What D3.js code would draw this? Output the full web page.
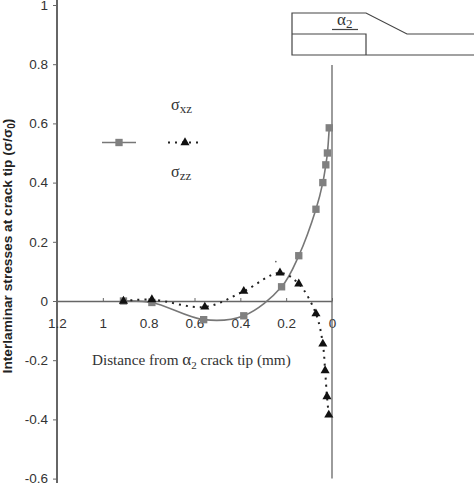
<!DOCTYPE html>
<html>
<head>
<meta charset="utf-8">
<script src="https://cdn.jsdelivr.net/npm/d3@7"></script>
<style>
  html, body { margin: 0; padding: 0; background: #fff; }
  svg { display: block; }
  .serif { font-family: "Liberation Serif", serif; fill: #333; }
  .axis text { font-family: "Liberation Sans", sans-serif; font-size: 13.5px; fill: #333; }
  .axis path, .axis line { stroke: #666; }
</style>
</head>
<body>
<svg id="chart" width="474" height="483"></svg>
<script>
// values
const xTickValues = [1.2, 1, 0.8, 0.6, 0.4, 0.2, 0];
const yTickValues = [1, 0.8, 0.6, 0.4, 0.2, 0, -0.2, -0.4, -0.6];

const xzDistance = [0.91, 0.786, 0.56, 0.385, 0.22, 0.145, 0.07, 0.04, 0.027, 0.02, 0.012];
const xzStress = [0, -0.005, -0.063, -0.05, 0.048, 0.153, 0.31, 0.40, 0.46, 0.50, 0.585];

const zzDistance = [0.91, 0.786, 0.555, 0.385, 0.227, 0.145, 0.07, 0.04, 0.03, 0.022, 0.014];
const zzStress = [0, 0.005, -0.02, 0.033, 0.095, 0.058, -0.043, -0.145, -0.235, -0.323, -0.385];

// small stray dot above the zz peak
const strayDistance = [0.245];
const strayStress = [0.133];

const svg = d3.select('#chart');

const xScale = d3.scaleLinear().domain([1.2, 0]).range([57, 332]);
const yScale = d3.scaleLinear().domain([1, -0.6]).range([5, 478.6]);

const zip = (xs, ys) => xs.map((x, i) => [x, ys[i]]);
const smooth = d3.line()
  .x(d => xScale(d[0]))
  .y(d => yScale(d[1]))
  .curve(d3.curveCatmullRom.alpha(0.5));

// y axis on the left edge
svg.append('g')
  .attr('class', 'axis')
  .attr('transform', `translate(${xScale(1.2)},0)`)
  .call(d3.axisLeft(yScale).tickValues(yTickValues).tickFormat(d => d).tickSize(4).tickPadding(5))
  .call(g => g.select('.domain').attr('stroke-width', 2).attr('d', `M0,0V483`));

// x axis along zero, labels sit below the ticks
svg.append('g')
  .attr('class', 'axis')
  .attr('transform', `translate(0,${yScale(0)})`)
  .call(d3.axisBottom(xScale).tickValues(xTickValues).tickFormat(d => d).tickSizeInner(-3).tickSizeOuter(0).tickPadding(17))
  .call(g => g.select('.domain').attr('stroke-width', 1.5));

// the vertical line at the crack tip
svg.append('line')
  .attr('x1', xScale(0)).attr('x2', xScale(0))
  .attr('y1', 65).attr('y2', yScale(-0.6))
  .attr('stroke', '#666')
  .attr('stroke-width', 1.3);

svg.append('path')
  .datum(zip(xzDistance, xzStress))
  .attr('d', smooth)
  .attr('fill', 'none')
  .attr('stroke', '#777')
  .attr('stroke-width', 1.6);

svg.append('path')
  .datum(zip(zzDistance, zzStress))
  .attr('d', smooth)
  .attr('fill', 'none')
  .attr('stroke', '#222')
  .attr('stroke-width', 2)
  .attr('stroke-dasharray', '2 5');

svg.append('g').selectAll('circle')
  .data(zip(strayDistance, strayStress))
  .join('circle')
  .attr('cx', d => xScale(d[0]))
  .attr('cy', d => yScale(d[1]))
  .attr('r', 0.8)
  .attr('fill', '#555');

const square = d3.symbol().type(d3.symbolSquare).size(54);
const triangle = d3.symbol().type(d3.symbolTriangle).size(36);

svg.append('g').selectAll('path')
  .data(zip(xzDistance, xzStress))
  .join('path')
  .attr('d', square)
  .attr('fill', '#808080')
  .attr('transform', d => `translate(${xScale(d[0])},${yScale(d[1])})`);

svg.append('g').selectAll('path')
  .data(zip(zzDistance, zzStress))
  .join('path')
  .attr('d', triangle)
  .attr('fill', '#111')
  .attr('transform', d => `translate(${xScale(d[0])},${yScale(d[1])})`);

// legend
svg.append('line').attr('x1', 102).attr('x2', 136).attr('y1', 142.5).attr('y2', 142.5)
  .attr('stroke', '#777').attr('stroke-width', 1.6);
svg.append('path').attr('d', square).attr('fill', '#808080').attr('transform', 'translate(119,142.5)');
svg.append('line').attr('x1', 168).attr('x2', 203).attr('y1', 142.5).attr('y2', 142.5)
  .attr('stroke', '#222').attr('stroke-width', 2).attr('stroke-dasharray', '2 5');
svg.append('path').attr('d', triangle).attr('fill', '#111').attr('transform', 'translate(185,142.5)');

const sigmaLabel = (x, y, sub) => {
  const t = svg.append('text').attr('class', 'serif').attr('x', x).attr('y', y).attr('font-size', 16);
  t.append('tspan').text('σ');
  t.append('tspan').attr('font-size', 13).attr('dy', 3).text(sub);
};
sigmaLabel(171, 110, 'xz');
sigmaLabel(171, 177, 'zz');

// x axis title
const xTitle = svg.append('text').attr('class', 'serif').attr('x', 92).attr('y', 365).attr('font-size', 15.2);
xTitle.append('tspan').text('Distance from ');
xTitle.append('tspan').attr('font-size', 17).text('α');
xTitle.append('tspan').attr('font-size', 11).attr('dy', 4).text('2');
xTitle.append('tspan').attr('dy', -4).text(' crack tip (mm)');

// y axis title
const yTitle = svg.append('text')
  .attr('transform', 'translate(12,246) rotate(-90)')
  .attr('text-anchor', 'middle')
  .attr('font-family', '"Liberation Sans", sans-serif')
  .attr('font-weight', 'bold')
  .attr('font-size', 13.7)
  .attr('fill', '#222');
yTitle.append('tspan').text('Interlaminar stresses at crack tip (σ/σ');
yTitle.append('tspan').attr('font-size', 10).attr('dy', 3).text('0');
yTitle.append('tspan').attr('dy', -3).text(')');

// specimen sketch, top right
const sketch = svg.append('g').attr('fill', 'none').attr('stroke', '#444').attr('stroke-width', 1.2);
sketch.append('path').attr('d', 'M474,34H407L366,13H292V55H474');
sketch.append('path').attr('d', 'M292,34H366V55');
sketch.append('path').attr('d', 'M332,29.5H358');
const alpha = svg.append('text').attr('class', 'serif').attr('x', 337).attr('y', 25).attr('font-size', 17);
alpha.append('tspan').text('α');
alpha.append('tspan').attr('font-size', 13).attr('dy', 3).text('2');
</script>
</body>
</html>
